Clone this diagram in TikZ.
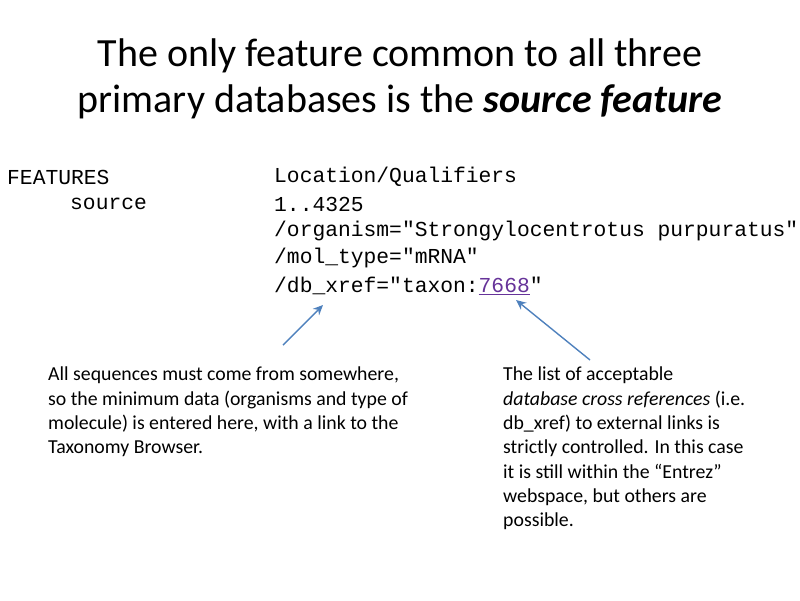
\documentclass[tikz,border=0pt]{standalone}
\usepackage{fontspec}
\usetikzlibrary{arrows.meta}
\setmainfont{Carlito}
\setmonofont{Liberation Mono}
\begin{document}
\begin{tikzpicture}[x=1pt,y=-1pt,
  code/.style={anchor=west,inner sep=0pt,font=\ttfamily\fontsize{21.3}{27}\selectfont},
  note/.style={anchor=north west,inner sep=0pt,align=left,font=\fontsize{19.8}{24.3}\selectfont},
  arr/.style={draw={rgb,255:red,79;green,129;blue,189},line width=1.4pt,-{Stealth[length=10pt,width=9pt]}}]
\useasboundingbox (0,0) rectangle (800,600);
\node[inner sep=0pt,align=center,font=\fontsize{40}{46}\selectfont] (title) at (400,79) {The only feature common to all three\\primary databases is the \textbf{\textit{source feature}}};
\node[code] (f) at (7,177) {FEATURES};
\node[code] (s) at (70,204) {source};
\node[code] (l1) at (274,177) {Location/Qualifiers};
\node[code] (l2) at (274,204) {1..4325};
\node[code] (l3) at (274,231) {/organism="Strongylocentrotus purpuratus"};
\node[code] (l4) at (274,258) {/mol\_type="mRNA"};
\node[code] (l5) at (274,286) {/db\_xref="taxon:\textcolor[RGB]{102,51,153}{\underline{7668}}"};
\coordinate (t1) at (323,305);
\coordinate (t2) at (516,300);
\node[note] (n1) at (48,367) {All sequences must come from somewhere,\\so the minimum data (organisms and type of\\molecule) is entered here, with a link to the\\Taxonomy Browser.};
\node[note] (n2) at (503,367) {The list of acceptable\\\textit{database cross references} (i.e.\\db\_xref) to external links is\\strictly controlled. In this case\\it is still within the “Entrez”\\webspace, but others are\\possible.};
\coordinate (s1) at (283,345);
\coordinate (s2) at (590,360);
\draw[arr] (s1) -- (t1);
\draw[arr] (s2) -- (t2);
\end{tikzpicture}
\end{document}
